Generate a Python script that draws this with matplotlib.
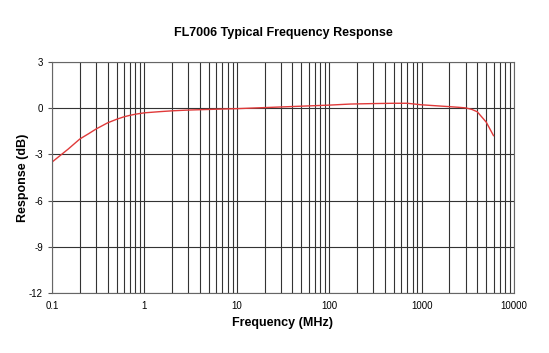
import matplotlib
matplotlib.use("Agg")
import matplotlib.pyplot as plt
from matplotlib.ticker import FixedLocator, FixedFormatter, LogLocator, NullFormatter

plt.rcParams['font.family'] = ['Liberation Sans', 'DejaVu Sans']

# frequency response
freq_mhz = [0.1, 0.15, 0.2, 0.25, 0.3, 0.4, 0.5, 0.6, 0.7, 0.8, 1, 1.5, 2, 3, 5, 10, 30, 100, 170, 300, 500, 700,
            1000, 1500, 2000, 2500, 3000, 3500, 4000, 5000, 6000]
resp_db = [-3.5, -2.65, -2.0, -1.65, -1.35, -0.95, -0.72, -0.56, -0.46, -0.39, -0.3, -0.22, -0.17, -0.12, -0.08,
           -0.03, 0.08, 0.2, 0.27, 0.3, 0.32, 0.32, 0.22, 0.15, 0.1, 0.06, 0.02, -0.08, -0.23, -0.9, -1.78]

yticks = [3, 0, -3, -6, -9, -12]
xticks = [0.1, 1, 10, 100, 1000, 10000]
xticklabels = ['0.1', '1', '10', '100', '1000', '10000']

fig = plt.figure(figsize=(5.49, 3.53), dpi=100)
ax = fig.add_axes([52 / 549, 1 - 293 / 353, (514 - 52) / 549, (293 - 62) / 353])

ax.plot(freq_mhz, resp_db, color='#e03a3a', lw=1.0)

ax.set_xscale('log')
ax.set_xlim(0.1, 10000)
ax.set_ylim(-12, 3)
ax.xaxis.set_major_locator(FixedLocator(xticks))
ax.xaxis.set_major_formatter(FixedFormatter(xticklabels))
ax.xaxis.set_minor_locator(LogLocator(base=10, subs=range(2, 10), numticks=20))
ax.xaxis.set_minor_formatter(NullFormatter())
ax.set_yticks(yticks)
ax.set_yticklabels([str(v) for v in yticks])

ax.grid(True, which='both', axis='x', color='#333333', lw=0.8)
ax.grid(True, which='major', axis='y', color='#333333', lw=0.8)
ax.tick_params(axis='x', which='both', length=0, labelsize=7, pad=6)
ax.tick_params(axis='y', length=3, labelsize=7, color='#555555')

for side in ['left', 'bottom', 'right', 'top']:
    ax.spines[side].set_color('#666666')
    ax.spines[side].set_linewidth(0.8)

ax.set_title('FL7006 Typical Frequency Response', fontsize=9, fontweight='bold', pad=19)
ax.set_xlabel('Frequency (MHz)', fontsize=9, fontweight='bold', labelpad=4)
ax.set_ylabel('Response (dB)', fontsize=9, fontweight='bold', labelpad=0)

fig.savefig('out.png', dpi=100)
